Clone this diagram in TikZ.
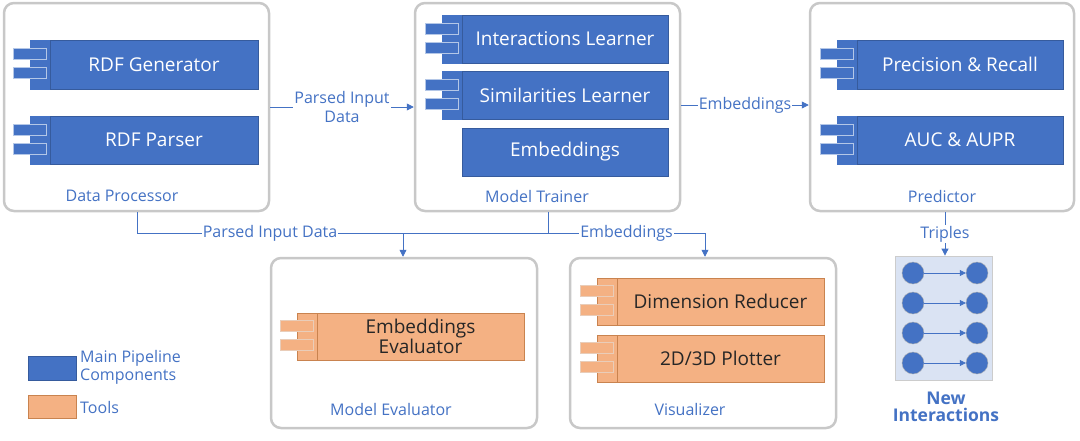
\documentclass[tikz,border=0pt]{standalone}
\usepackage{fontspec}
\setmainfont{Open Sans}
\usetikzlibrary{arrows.meta}
\definecolor{blu}{HTML}{4472C4}
\definecolor{org}{HTML}{F4B183}
\definecolor{orgd}{HTML}{C9834F}
\definecolor{gry}{HTML}{C8C8C8}
\definecolor{lbl}{HTML}{DAE3F3}
\begin{document}
\begin{tikzpicture}[x=1pt,y=-1pt,
 cont/.style={draw=gry,line width=2.5pt,rounded corners=10pt,fill=white},
 bcomp/.style={fill=blu,draw=blu!80!black,line width=0.5pt,text=white,font=\fontsize{19}{21}\selectfont},
 ocomp/.style={fill=org,draw=orgd,line width=0.7pt,text=black!85,font=\fontsize{19}{20}\selectfont,align=center},
 ctitle/.style={text=blu,font=\fontsize{16}{18}\selectfont},
 elbl/.style={text=blu,font=\fontsize{16}{19}\selectfont,fill=white,inner sep=1pt,align=center},
 conn/.style={draw=blu,line width=0.8pt},
 arr/.style={conn,-{Triangle[length=7pt,width=7pt]}},
 dot/.style={circle,fill=blu,draw=gray!60,minimum size=22pt,inner sep=0pt}]
\useasboundingbox (0,0) rectangle (1080,440);
\newcommand{\icon}[5]{%
 \fill[#4,draw=#5,line width=0.5pt] (#1-20,#2) rectangle (#1,#3);
 \fill[#4,draw=#5!40!white,line width=0.7pt] (#1-37,{(#2+#3)/2-16}) rectangle (#1-4,{(#2+#3)/2-5});
 \fill[#4,draw=#5!40!white,line width=0.7pt] (#1-37,{(#2+#3)/2+3}) rectangle (#1-4,{(#2+#3)/2+14});
}
% containers
\node[cont,minimum width=265pt,minimum height=208pt] (dp) at (136.5,107) {};
\node[cont,minimum width=265pt,minimum height=208pt] (mt) at (547.5,107) {};
\node[cont,minimum width=264pt,minimum height=208pt] (pr) at (942,107) {};
\node[cont,minimum width=266pt,minimum height=170pt] (me) at (404,343) {};
\node[cont,minimum width=266pt,minimum height=170pt] (vi) at (703,343) {};
\node[ctitle] (dpt) at (122,196) {Data Processor};
\node[ctitle] (mtt) at (537,196) {Model Trainer};
\node[ctitle] (prt) at (942,196) {Predictor};
\node[ctitle] (met) at (391,409) {Model Evaluator};
\node[ctitle] (vit) at (690,409) {Visualizer};
% blue components
\icon{50}{40}{89}{blu}{blu}
\node[bcomp,minimum width=208pt,minimum height=49pt,inner sep=0pt] (g) at (154,64.5) {RDF Generator};
\icon{50}{116}{164}{blu}{blu}
\node[bcomp,minimum width=208pt,minimum height=48pt,inner sep=0pt] (p) at (154,140) {RDF Parser};
\icon{462}{15}{63}{blu}{blu}
\node[bcomp,minimum width=206pt,minimum height=48pt,inner sep=0pt] (il) at (565,39) {Interactions Learner};
\icon{462}{71}{119}{blu}{blu}
\node[bcomp,minimum width=206pt,minimum height=48pt,inner sep=0pt] (sl) at (565,95) {Similarities Learner};
\node[bcomp,minimum width=206pt,minimum height=48pt,inner sep=0pt] (em) at (565,152) {Embeddings};
\icon{857}{40}{89}{blu}{blu}
\node[bcomp,minimum width=206pt,minimum height=49pt,inner sep=0pt] (pre) at (960,64.5) {Precision \& Recall};
\icon{857}{116}{164}{blu}{blu}
\node[bcomp,minimum width=206pt,minimum height=48pt,inner sep=0pt] (auc) at (960,140) {AUC \& AUPR};
% orange components
\icon{317}{313}{360}{org}{orgd}
\node[ocomp,minimum width=207pt,minimum height=47pt,inner sep=0pt] (ee) at (420.5,336.5) {Embeddings\\Evaluator};
\icon{617}{278}{325}{org}{orgd}
\node[ocomp,minimum width=207pt,minimum height=47pt,inner sep=0pt] (dr) at (720.5,301.5) {Dimension Reducer};
\icon{617}{335}{382}{org}{orgd}
\node[ocomp,minimum width=207pt,minimum height=47pt,inner sep=0pt] (pl) at (720.5,358.5) {2D/3D Plotter};
% legend
\node[fill=blu,draw=blu!80!black,minimum width=48pt,minimum height=24pt,inner sep=0pt] (lg1) at (52,368) {};
\node[text=blu,font=\fontsize{16}{18}\selectfont,align=left,anchor=west,inner sep=1pt] (lg1t) at (79,367) {Main Pipeline\\Components};
\node[fill=org,draw=orgd,minimum width=48pt,minimum height=23pt,inner sep=0pt] (lg2) at (52,406.5) {};
\node[text=blu,font=\fontsize{16}{18}\selectfont,anchor=west,inner sep=1pt] (lg2t) at (79,407) {Tools};
% triples
\node[fill=lbl,draw=gray!40,line width=0.8pt,minimum width=97pt,minimum height=124pt,inner sep=0pt] (tb) at (943.5,318) {};
\foreach \i/\yy in {1/273,2/303,3/333,4/363}{
 \node[dot] (a\i) at (913,\yy) {};
 \node[dot] (b\i) at (977,\yy) {};
 \draw[conn,line width=0.6pt,-{Triangle[length=6pt,width=6pt]}] (a\i) -- (b\i);
}
\node[text=blu,font=\bfseries\fontsize{17.5}{17}\selectfont,align=center] (ni) at (946,407) {New\\Interactions};
% connectors
\draw[arr] (dp.east |- 0,107) -- (mt.west |- 0,107) node[elbl,midway] {Parsed Input\\Data};
\draw[arr] (mt.east |- 0,105) -- (pr.west |- 0,105) node[elbl,midway] {Embeddings};
\coordinate (j1) at (137,233);
\coordinate (j2) at (403,233);
\coordinate (j3) at (548,233);
\coordinate (j4) at (705,233);
\draw[conn] (dp.south -| j1) -- (j1) -- (j2) node[elbl,pos=0.5] {Parsed Input Data};
\draw[arr] (j2) -- (me.north -| j2);
\draw[conn] (mt.south -| j3) -- (j3) -- (j2);
\draw[conn] (j3) -- (j4) node[elbl,pos=0.5] {Embeddings};
\draw[arr] (j4) -- (vi.north -| j4);
\draw[arr] (pr.south -| 945,0) -- (tb.north -| 945,0) node[elbl,midway] {Triples};
\end{tikzpicture}
\end{document}
